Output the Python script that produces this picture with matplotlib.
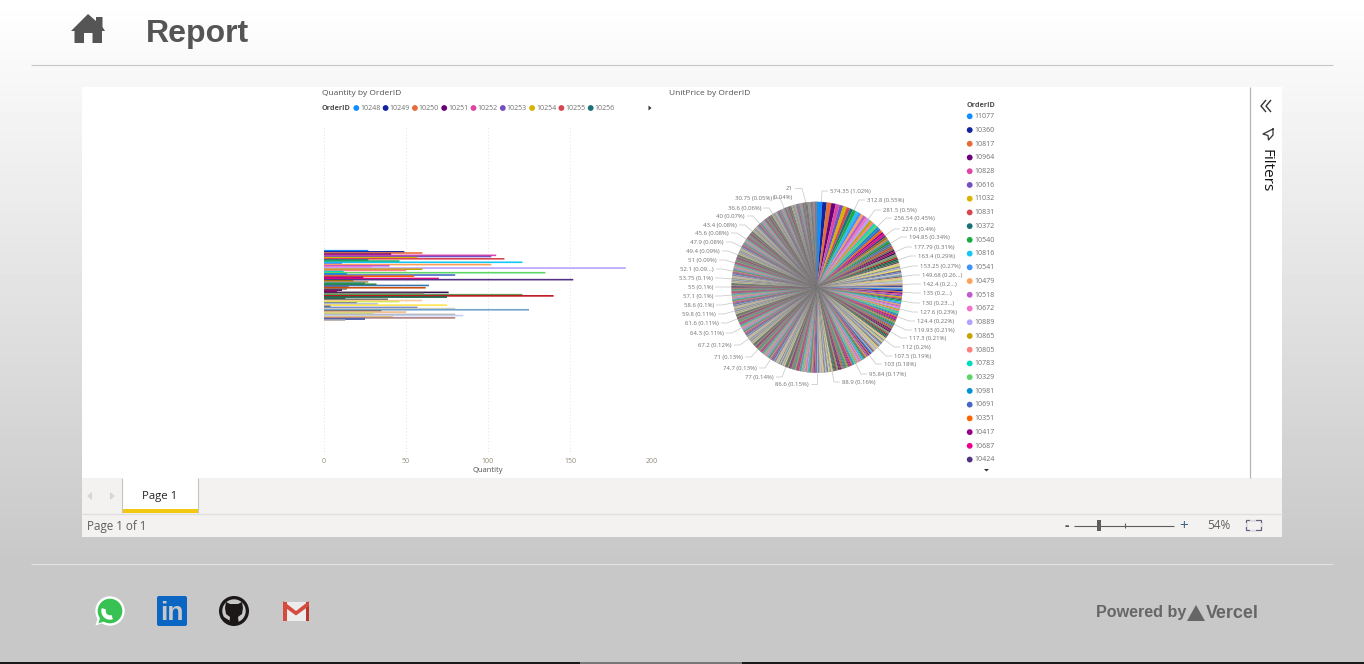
import numpy as np
import matplotlib
matplotlib.use("Agg")
import matplotlib.pyplot as plt
from matplotlib.patches import Circle, FancyBboxPatch, Polygon, Rectangle, Arc

W, H = 1364, 664

palette = ['#118DFF', '#12239E', '#E66C37', '#6B007B', '#E044A7', '#744EC2', '#D9B300', '#D64550',
           '#197278', '#1AAB40', '#15C6F4', '#4092FF', '#FFA058', '#BE5DC9', '#F472D0', '#B5A1FF',
           '#C4A200', '#FF8080', '#00DBBC', '#5BD667', '#0091D5', '#4668C5', '#FF6300', '#99008A',
           '#EC008C', '#533285', '#99700A', '#C08A60', '#1F9A85', '#25891C', '#3A76B0', '#6A6A90',
           '#C94F0F', '#8A6A5A', '#450F54', '#B60064', '#34124F', '#8A8F80', '#5F9A50', '#BA141A',
           '#0C5C41', '#1A6A50', '#555555', '#F7C7A0', '#D8E85A', '#8A8A8A', '#A9B8E0', '#FFE34D',
           '#6A6A8A', '#6F7FC8', '#CFCFC0', '#6FA2CC', '#7A6A5A', '#F5B98A', '#D4E06A', '#B5B5B5',
           '#C5CFF0', '#E0C080', '#B08080', '#3A4FA8', '#C0B8B0']

top_legend_ids = ['10248', '10249', '10250', '10251', '10252', '10253', '10254', '10255', '10256']
side_legend_ids = ['11077', '10360', '10817', '10964', '10828', '10616', '11032', '10831', '10372',
                   '10540', '10816', '10541', '10479', '10518', '10672', '10889', '10865', '10805',
                   '10783', '10329', '10981', '10691', '10351', '10417', '10687', '10424']

quantity = [27, 49, 60, 41, 105, 102, 57, 110, 27, 46, 121, 11, 102, 40, 29, 184, 60, 50, 12, 135,
            14, 80, 55, 24, 70, 152, 18, 27, 25, 32, 64, 15, 62, 14, 11, 8, 76, 61, 121, 140,
            75, 13, 39, 60, 46, 20, 33, 75, 4, 57, 80, 125, 35, 50, 30, 80, 85, 42, 80, 25, 13]
quantity_ticks = [0, 50, 100, 150, 200]

# unit price levels read from the pie labels, with the estimated number of orders at each
price_levels = [574.35, 500, 420, 360, 312.8, 281.5, 256.54, 227.6, 194.85, 177.79, 163.4, 153.25,
                149.68, 142.4, 135, 130, 127.6, 124.4, 119.93, 117.3, 112, 107.5, 103, 95.84, 88.9,
                86.6, 77, 74.7, 71, 67.2, 64.3, 61.6, 59.8, 58.6, 57.1, 55, 53.75, 52.1, 51, 49.4,
                47.9, 45.6, 43.4, 40, 36.6, 30.75, 21]
orders_at_level = [1, 3, 3, 3, 4, 4, 5, 5, 6, 7, 8, 8,
                   8, 9, 9, 10, 10, 10, 10, 11, 11, 12, 12, 13, 14,
                   14, 17, 17, 18, 19, 20, 21, 21, 22, 22, 23, 24, 25, 25, 26,
                   27, 28, 29, 32, 35, 42, 60]

right_labels = ['574.35 (1.02%)', '312.8 (0.55%)', '281.5 (0.5%)', '256.54 (0.45%)', '227.6 (0.4%)',
                '194.85 (0.34%)', '177.79 (0.31%)', '163.4 (0.29%)', '153.25 (0.27%)', '149.68 (0.26...)',
                '142.4 (0.2...)', '135 (0.2...)', '130 (0.23...)', '127.6 (0.23%)', '124.4 (0.22%)',
                '119.93 (0.21%)', '117.3 (0.21%)', '112 (0.2%)', '107.5 (0.19%)', '103 (0.18%)',
                '95.84 (0.17%)', '88.9 (0.16%)']
left_labels = ['30.75 (0.05%)', '36.6 (0.06%)', '40 (0.07%)', '43.4 (0.08%)', '45.6 (0.08%)',
               '47.9 (0.08%)', '49.4 (0.09%)', '51 (0.09%)', '52.1 (0.09...)', '53.75 (0.1%)',
               '55 (0.1%)', '57.1 (0.1%)', '58.6 (0.1%)', '59.8 (0.11%)', '61.6 (0.11%)',
               '64.3 (0.11%)', '67.2 (0.12%)', '71 (0.13%)', '74.7 (0.13%)', '77 (0.14%)', '86.6 (0.15%)']

# label layout, pixels
right_x = [830, 867, 883, 894, 902, 909, 914, 918, 920, 922, 923, 923, 922, 920, 917, 914, 909, 902, 894, 884, 869, 842]
right_y = [191, 200, 210, 218, 229, 237, 247, 256, 266, 275, 284, 293, 303, 312, 321, 330, 338, 347, 356, 364, 374, 382]
left_x = [772, 761, 745, 737, 729, 724, 720, 717, 714, 713, 713, 713, 714, 716, 719, 724, 732, 743, 757, 774, 809]
left_y = [198, 208, 216, 225, 233, 242, 251, 260, 269, 278, 287, 296, 305, 314, 323, 333, 345, 357, 368, 377, 384]

grey_text = '#707070'
dark_text = '#505050'
sans = 'Open Sans'
arial = 'Liberation Sans'

fig = plt.figure(figsize=(W / 100, H / 100), dpi=100)

# page in pixel coordinates
bg = fig.add_axes([0, 0, 1, 1])
bg.set_xlim(0, W)
bg.set_ylim(H, 0)
bg.axis('off')
shade = np.clip(np.arange(H) / 560, 0, 1)
shade = 1 - shade * (1 - 200 / 255)
bg.imshow(shade[:, None], cmap='gray', vmin=0, vmax=1, extent=[0, W, H, 0], aspect='auto', zorder=0)
bg.set_xlim(0, W)
bg.set_ylim(H, 0)


def box(x0, y0, x1, y1, color, z=1):
    bg.add_patch(Rectangle((x0, y0), x1 - x0, y1 - y0, fc=color, ec='none', zorder=z))


def line(xs, ys, color, lw=1, z=3):
    bg.plot(xs, ys, color=color, lw=lw, zorder=z, solid_capstyle='butt')


def label(x, y, s, size=6, color=grey_text, ha='left', **kw):
    bg.text(x, y + 0.7, s, fontsize=size, color=color, ha=ha, va='center', family=kw.pop('family', sans), zorder=6, **kw)


# header
bg.add_patch(Polygon([(88, 14), (96, 21), (96, 17), (102.5, 17), (102.5, 27), (105, 31), (102, 31), (102, 43),
                      (92.5, 43), (92.5, 33), (84, 33), (84, 43), (74.5, 43), (74.5, 31), (71, 31)],
                     fc='#555555', ec='none', zorder=3))
label(146, 33, 'Report', size=23, color='#555555', family=arial, fontweight='bold')
line([31, 1333], [64.5, 64.5], '#c6c6c6', 0.8)
line([31, 1333], [563.5, 563.5], '#e2e2e2', 0.8)

# report frame
box(82, 87, 1282, 478, 'white')
box(82, 478, 1282, 537, '#f3f2f1')
line([82, 1282], [514, 514], '#e1dfdd')
box(122, 478, 197.5, 509, 'white', 2)
box(122, 509, 197.5, 513, '#f2c811', 2)
line([121.5, 121.5], [478, 513], '#c4c4c4', 0.8)
line([197.5, 197.5], [478, 513], '#c4c4c4', 0.8)
label(159.5, 496, 'Page 1', size=8.2, color='#252423', ha='center')
bg.add_patch(Polygon([(92, 492), (92, 500), (87, 496)], fc='#d5d5d5', ec='none', zorder=3))
bg.add_patch(Polygon([(110, 492), (110, 500), (115, 496)], fc='#d5d5d5', ec='none', zorder=3))
label(87, 525.5, 'Page 1 of 1', size=8.4, color='#605e5c')

# zoom bar
label(1067, 525, '-', size=10, color='#555555', ha='center', fontweight='bold')
line([1074, 1174], [525.5, 525.5], '#605e5c', 0.8)
box(1097, 520, 1101, 531, '#605e5c', 3)
line([1124.5, 1124.5], [523, 528], '#605e5c', 0.8)
label(1184, 525.5, '+', size=11, color='#3a5f80', ha='center')
label(1219, 524.5, '54%', size=8.5, color='#605e5c', ha='center')
bg.add_patch(Rectangle((1245.5, 520), 15, 10, fc='none', ec='#6a5f80', lw=0.9, zorder=3))
line([1250, 1256], [520, 520], '#f3f2f1', 1.2, 4)
line([1250, 1256], [530, 530], '#f3f2f1', 1.2, 4)
line([1245.5, 1245.5], [523, 527], '#f3f2f1', 1.2, 4)
line([1260.5, 1260.5], [523, 527], '#f3f2f1', 1.2, 4)

# filters pane
line([1249.5, 1249.5], [87, 478], '#b5b5b5', 0.9)
line([1266, 1261, 1266], [100, 106, 112], '#333333', 1)
line([1271, 1266, 1271], [100, 106, 112], '#333333', 1)
bg.plot([1273, 1263, 1268, 1268.5, 1273, 1273], [129, 134, 135.5, 140, 135, 129], color='#333333', lw=0.9, zorder=3)
label(1266, 170, 'Filters', size=11, color='#151515', ha='center', rotation=270)

# bar chart
label(322, 92.5, 'Quantity by OrderID', size=6, color=dark_text)
label(322, 107.5, 'OrderID', size=5.2, color=dark_text, fontweight='bold')
for i, name in enumerate(top_legend_ids):
    bg.add_patch(Circle((356.3 + i * 29.3, 108), 2.9, fc=palette[i], ec='none', zorder=4))
    label(360.2 + i * 29.3, 107.5, name, size=5)
bg.add_patch(Polygon([(648.5, 105.5), (648.5, 110.5), (651.5, 108)], fc='#333333', ec='none', zorder=4))

ax_left, ax_right, ax_top, ax_bottom = 324, 652, 125, 455
ax = fig.add_axes([ax_left / W, 1 - ax_bottom / H, (ax_right - ax_left) / W, (ax_bottom - ax_top) / H])
rows = np.arange(len(quantity))
row_px = 69.5 / (len(quantity) - 1)
bar_colors = [palette[i % len(palette)] for i in rows]
ax.barh(rows, quantity, height=1.4, color=bar_colors, linewidth=0, snap=False)
ax.set_xlim(0, 200)
ax.set_ylim((ax_bottom - 250.7) / row_px, (ax_top - 250.7) / row_px)
ax.set_xticks(quantity_ticks)
ax.set_yticks([])
ax.tick_params(axis='x', length=0, labelsize=5, labelcolor='#8f8a78', pad=2)
for t in ax.get_xticklabels():
    t.set_family(sans)
ax.grid(axis='x', color='#d8d8d8', linestyle=(0, (1, 3)), linewidth=0.6)
ax.set_axisbelow(True)
for s in ax.spines.values():
    s.set_visible(False)
ax.patch.set_alpha(0)
label(488, 469.5, 'Quantity', size=5.4, color=dark_text, ha='center')

# pie chart
label(669, 92.5, 'UnitPrice by OrderID', size=6, color=dark_text)
cx, cy, r = 817, 287.3, 85.5
pie_ax = fig.add_axes([(cx - r) / W, 1 - (cy + r) / H, 2 * r / W, 2 * r / H])
slices = np.repeat(price_levels, orders_at_level)
slice_colors = [palette[i % len(palette)] for i in range(len(slices))]
pie_ax.pie(slices, colors=slice_colors, startangle=90, counterclock=False, radius=1,
           wedgeprops={'linewidth': 0.08, 'edgecolor': '#808080'})
pie_ax.set_xlim(-1, 1)
pie_ax.set_ylim(-1, 1)
pie_ax.patch.set_alpha(0)


def leader(tx, ty, side):
    end = tx - 2 if side > 0 else tx + 2
    elbow = end - 6 * side
    a = np.arctan2(ty - cy, elbow - cx)
    line([cx + r * np.cos(a), elbow, end], [cy + r * np.sin(a), ty, ty], '#c4c4c4', 0.5)


for s, x, y in zip(right_labels, right_x, right_y):
    label(x, y, s, size=4.35)
    leader(x, y, 1)
for s, x, y in zip(left_labels, left_x, left_y):
    label(x, y, s, size=4.35, ha='right')
    leader(x, y, -1)
label(789, 188, '21', size=4.35, ha='center')
label(783, 196.5, '(0.04%)', size=4.35, ha='center')
line([795, 802, 806], [188.5, 188.5, cy - r + 1], '#c4c4c4', 0.5)

# side legend
label(966.7, 105, 'OrderID', size=5.2, color=dark_text, fontweight='bold')
for i, name in enumerate(side_legend_ids):
    y = 116.3 + i * 13.73
    bg.add_patch(Circle((969.7, y), 2.9, fc=palette[i], ec='none', zorder=4))
    label(974, y - 0.4, name, size=5)
bg.add_patch(Polygon([(984, 469), (989, 469), (986.5, 471.5)], fc='#333333', ec='none', zorder=4))

# footer icons
bg.add_patch(Circle((110, 611), 14.7, fc='white', ec='none', zorder=3))
bg.add_patch(Polygon([(95.5, 625.5), (99, 614), (106, 622)], fc='white', ec='none', zorder=3))
bg.add_patch(Polygon([(98.5, 623.5), (100.5, 616), (105, 621)], fc='#3cc455', ec='none', zorder=4))
bg.add_patch(Circle((110, 611), 12.3, fc='#38c253', ec='none', zorder=4))
bg.add_patch(Arc((110, 611), 13, 13, angle=0, theta1=70, theta2=200, ec='white', lw=3.2, zorder=5))

bg.add_patch(FancyBboxPatch((158, 597), 28, 28, boxstyle='round,pad=1,rounding_size=2', fc='#0a66c2', ec='none', zorder=3))
label(172, 612.5, 'in', size=19, color='#c8c8c8', ha='center', family=arial, fontweight='bold')

bg.add_patch(Circle((234, 611), 15, fc='#1b1817', ec='none', zorder=3))
bg.add_patch(Circle((234, 611), 11.7, fc='#c8c8c8', ec='none', zorder=4))
bg.add_patch(Polygon([(226, 602), (230, 604), (238, 604), (242, 602), (243, 608), (242, 614), (238, 617),
                      (239, 625), (229, 625), (230, 617), (226, 614), (225, 608)],
                     fc='#1b1817', ec='none', zorder=5))
bg.add_patch(Polygon([(221, 617), (224, 618), (229, 621), (229, 624)], fc='#1b1817', ec='#1b1817', lw=1, zorder=5))

box(283, 602, 309, 621, '#ececec', 3)
box(283, 602, 286.5, 621, '#d54c3f', 4)
box(305.5, 602, 309, 621, '#b8372c', 4)
bg.add_patch(Polygon([(283, 601), (296, 611), (309, 601), (309, 606), (296, 615.5), (283, 606)],
                     fc='#d54c3f', ec='none', zorder=4))

label(1096, 612, 'Powered by', size=11.6, color='#666666', family=arial, fontweight='bold')
bg.add_patch(Polygon([(1187, 621), (1196, 605), (1205, 621)], fc='#666666', ec='none', zorder=3))
label(1206, 612.3, 'Vercel', size=12.9, color='#666666', family=arial, fontweight='bold')

# bottom strip
box(0, 661.5, W, H, '#1a1a1a', 3)
box(580, 661.5, 742, H, '#777777', 4)

fig.savefig('out.png', dpi=100)
